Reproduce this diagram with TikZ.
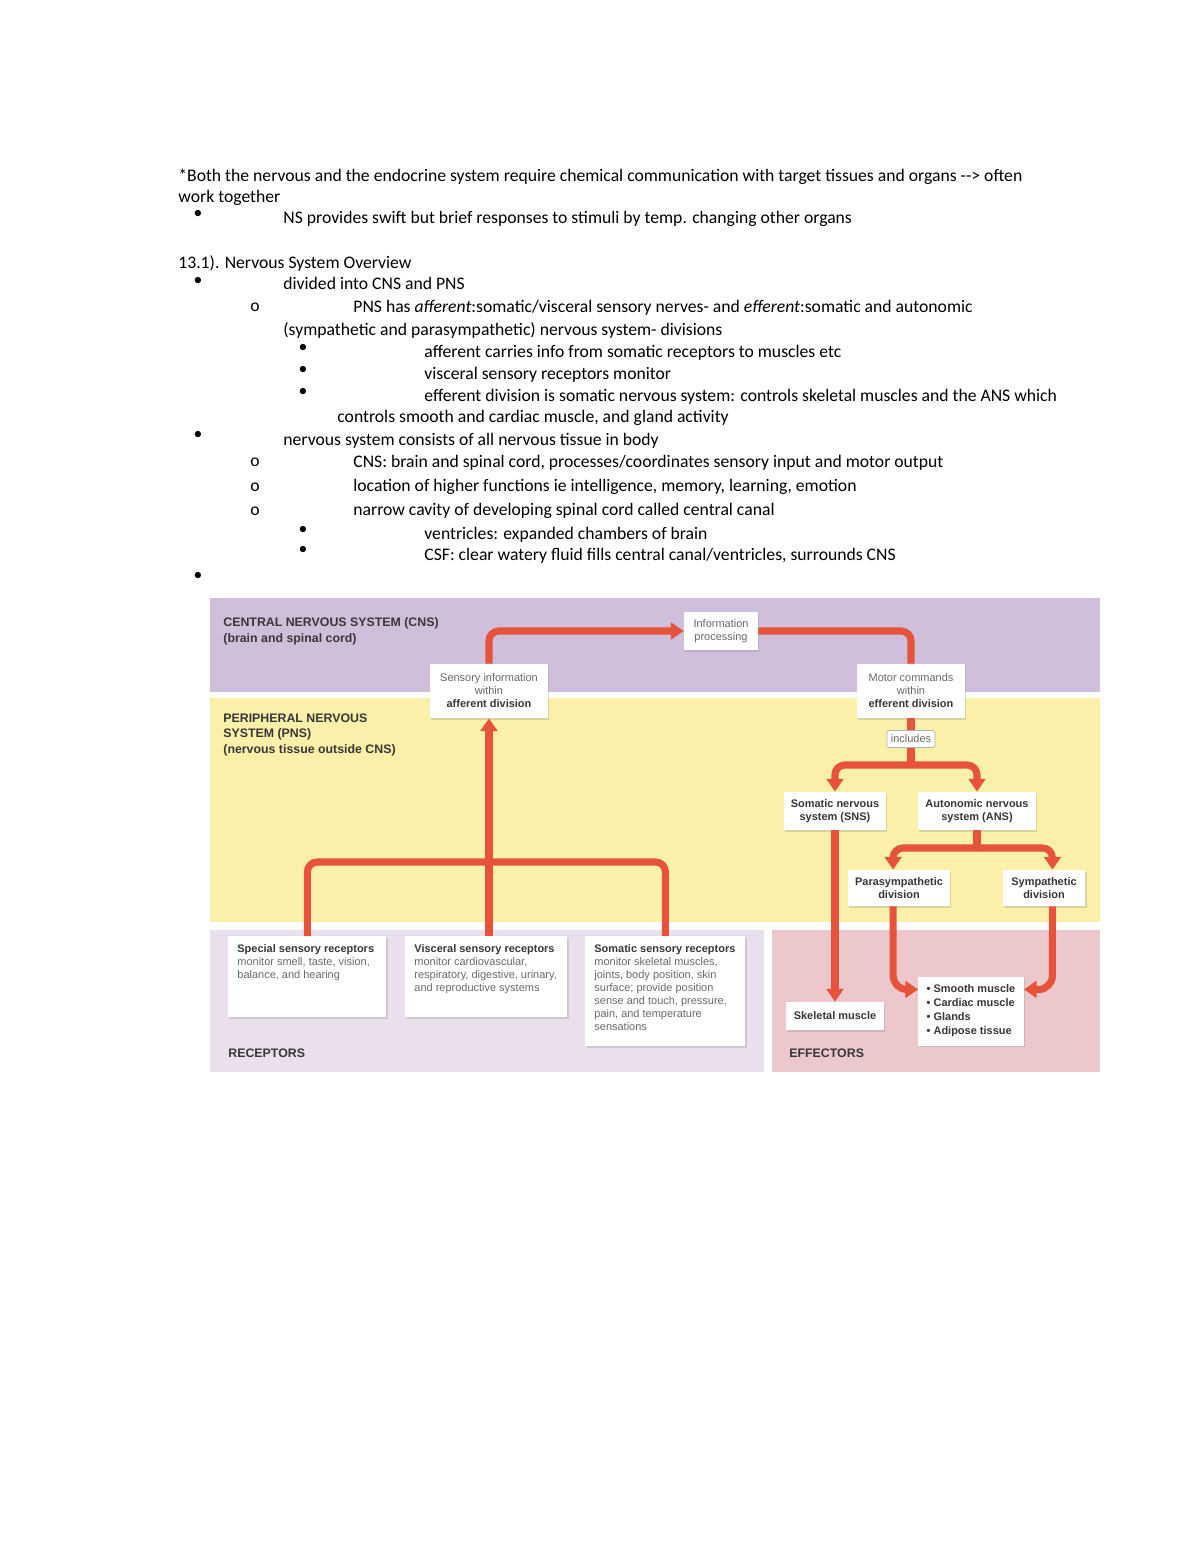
\documentclass[tikz,border=0pt]{standalone}
\usepackage{fontspec}
\setmainfont{Carlito}
\newfontfamily\figfont{Liberation Sans}
\usetikzlibrary{arrows.meta,shadows,positioning}

\definecolor{nervered}{RGB}{230,82,58}
\definecolor{cnsband}{RGB}{208,191,218}
\definecolor{pnsband}{RGB}{250,240,170}
\definecolor{recband}{RGB}{234,223,236}
\definecolor{effband}{RGB}{236,200,204}
\definecolor{boxgray}{RGB}{105,105,105}
\definecolor{boxdark}{RGB}{55,55,55}

\tikzset{
	line/.style={anchor=base west,inner sep=0pt,font=\fontsize{9}{10}\selectfont},
	dot/.style={inner sep=0pt,font=\fontsize{9}{10}\selectfont},
	infobox/.style={fill=white,drop shadow={shadow xshift=0.7pt,shadow yshift=-0.9pt,opacity=0.25},
		align=center,inner sep=1pt,text=boxgray,font=\figfont\fontsize{5.6}{6.6}\selectfont},
	divbox/.style={infobox,text=boxdark,font=\figfont\bfseries\fontsize{5.6}{6.6}\selectfont},
	tagbox/.style={fill=white,draw=gray!60,rounded corners=1pt,inner sep=1pt,text=boxgray,
		font=\figfont\fontsize{5.6}{6.6}\selectfont},
	recbox/.style={infobox,anchor=north west,align=left,inner xsep=4.6pt,inner ysep=4.4pt},
	bandlabel/.style={anchor=north west,inner sep=0pt,align=left,text=boxdark,
		font=\figfont\bfseries\fontsize{6.3}{8}\selectfont},
	nerve/.style={draw=nervered,line width=3.6pt,rounded corners=5pt},
	nervetip/.style={nerve,-{Triangle[width=8.5pt,length=6.5pt]}},
}

\begin{document}
\begin{tikzpicture}[x=0.51pt,y=-0.51pt]
	\fill[white] (0,0) rectangle (1200,1553);
	\useasboundingbox (0,0) rectangle (1200,1553);

	% notes
	\node[line] (intro) at (178,182) {*Both the nervous and the endocrine system require chemical communication with target tissues and organs {-}{-}> often};
	\node[line] (intro2) at (178,203) {work together};
	\node[line] (swift) at (283,224) {NS provides swift but brief responses to stimuli by temp. changing other organs};
	\node[line] (title) at (178,268) {13.1). Nervous System Overview};
	\node[line] (divided) at (283,289) {divided into CNS and PNS};
	\node[line] (pns) at (353,312) {PNS has \textit{afferent}:somatic/visceral sensory nerves- and \textit{efferent}:somatic and autonomic};
	\node[line] (pns2) at (283,335) {(sympathetic and parasympathetic) nervous system- divisions};
	\node[line] (aff) at (424,357) {afferent carries info from somatic receptors to muscles etc};
	\node[line] (visc) at (424,379) {visceral sensory receptors monitor};
	\node[line] (eff) at (424,401) {efferent division is somatic nervous system: controls skeletal muscles and the ANS which};
	\node[line] (eff2) at (337,422) {controls smooth and cardiac muscle, and gland activity};
	\node[line] (tissue) at (283,445) {nervous system consists of all nervous tissue in body};
	\node[line] (cns) at (353,467) {CNS: brain and spinal cord, processes/coordinates sensory input and motor output};
	\node[line] (higher) at (353,491) {location of higher functions ie intelligence, memory, learning, emotion};
	\node[line] (canal) at (353,515) {narrow cavity of developing spinal cord called central canal};
	\node[line] (ventr) at (424,539) {ventricles: expanded chambers of brain};
	\node[line] (csf) at (424,560) {CSF: clear watery fluid fills central canal/ventricles, surrounds CNS};
	\foreach \x/\y [count=\i] in {198/214,198/281,303/348,303/370,303/392,198/435,303/530,303/550,198/576}
		\node[dot] (bul\i) at (\x,\y) {\textbullet};
	\foreach \y [count=\i] in {307,462,487,511}
		\node[dot] (circ\i) at (255,\y) {o};

	% bands
	\fill[cnsband] (210,598) rectangle (1100,692);
	\fill[pnsband] (210,698) rectangle (1100,922);
	\fill[recband] (210,930) rectangle (764,1072);
	\fill[effband] (772,930) rectangle (1100,1072);
	\node[bandlabel] (cnslabel) at (223,617) {CENTRAL NERVOUS SYSTEM (CNS)\\(brain and spinal cord)};
	\node[bandlabel] (pnslabel) at (223,713) {PERIPHERAL NERVOUS\\SYSTEM (PNS)\\(nervous tissue outside CNS)};
	\node[bandlabel] (reclabel) at (228,1048) {RECEPTORS};
	\node[bandlabel] (efflabel) at (789,1048) {EFFECTORS};

	% boxes
	\node[infobox,minimum width=37.7pt,minimum height=19.4pt] (info) at (721,631) {Information\\processing};
	\node[infobox,minimum width=60.2pt,minimum height=27.5pt] (sensory) at (489,691) {Sensory information\\within\\\textbf{\color{boxdark}afferent division}};
	\node[infobox,minimum width=55.1pt,minimum height=27.5pt] (motor) at (911,691) {Motor commands\\within\\\textbf{\color{boxdark}efferent division}};
	\node[tagbox,minimum width=24.5pt,minimum height=8.7pt] (includes) at (911,739) {includes};
	\node[divbox,minimum width=52pt,minimum height=19.4pt] (sns) at (835,811) {Somatic nervous\\system (SNS)};
	\node[divbox,minimum width=60.2pt,minimum height=19.4pt] (ans) at (977,811) {Autonomic nervous\\system (ANS)};
	\node[divbox,minimum width=52pt,minimum height=18.4pt] (para) at (899,888) {Parasympathetic\\division};
	\node[divbox,minimum width=42.3pt,minimum height=18.4pt] (symp) at (1044,888) {Sympathetic\\division};
	\node[recbox] (special) at (228,936) {\parbox[t][32.5pt][t]{71.4pt}{\raggedright\textbf{\color{boxdark}Special sensory receptors}\\monitor smell, taste, vision,\\balance, and hearing}};
	\node[recbox] (visceral) at (405,936) {\parbox[t][32.5pt][t]{73.4pt}{\raggedright\textbf{\color{boxdark}Visceral sensory receptors}\\monitor cardiovascular,\\respiratory, digestive, urinary,\\and reproductive systems}};
	\node[recbox] (somatic) at (585,936) {\parbox[t][47.3pt][t]{72.4pt}{\raggedright\textbf{\color{boxdark}Somatic sensory receptors}\\monitor skeletal muscles,\\joints, body position, skin\\surface; provide position\\sense and touch, pressure,\\pain, and temperature\\sensations}};
	\node[divbox,minimum width=49.5pt,minimum height=14.3pt] (skeletal) at (835,1016) {Skeletal muscle};
	\node[divbox,align=left,minimum width=53.6pt,minimum height=35.2pt,font=\figfont\bfseries\fontsize{5.6}{7.1}\selectfont] (smooth) at (971,1011) {• Smooth muscle\\• Cardiac muscle\\• Glands\\• Adipose tissue};

	% connectors
	\coordinate (recjoin) at (489,862);
	\draw[nerve] (special.north) |- (recjoin) -| (somatic.north);
	\draw[nervetip] (visceral.north -| sensory.south) -- (sensory.south);
	\draw[nervetip] (sensory.north) |- (info.west);
	\draw[nerve] (info.east) -| (motor.north);
	\draw[nerve] (motor.south) -- (includes.north);
	\coordinate (efjoin) at (911,765);
	\draw[nerve] (includes.south) -- (efjoin);
	\draw[nervetip] (efjoin) -| (sns.north);
	\draw[nervetip] (efjoin) -| (ans.north);
	\coordinate (ansjoin) at (977,848);
	\draw[nerve] (ans.south) -- (ansjoin);
	\draw[nervetip] (ansjoin) -| ([xshift=-3pt]para.north);
	\draw[nervetip] (ansjoin) -| ([xshift=4.3pt]symp.north);
	\draw[nervetip] (sns.south) -- (skeletal.north);
	\draw[nervetip,rounded corners=7pt] ([xshift=-3pt]para.south) |- ([yshift=11pt]smooth.west);
	\draw[nervetip,rounded corners=7pt] ([xshift=4.3pt]symp.south) |- ([yshift=11pt]smooth.east);
\end{tikzpicture}
\end{document}
